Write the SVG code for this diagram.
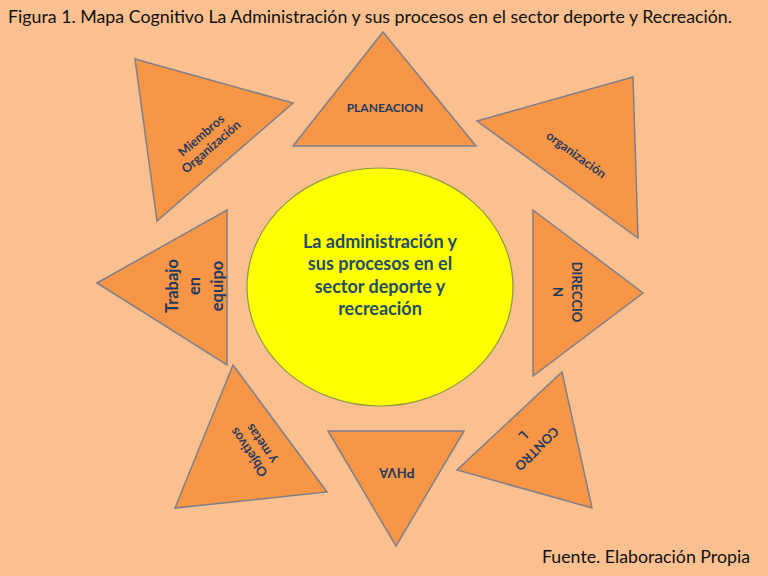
<svg xmlns="http://www.w3.org/2000/svg" width="768" height="576" viewBox="0 0 768 576">
<style>
.tri{fill:#F79646;stroke:#7F7F8A;stroke-width:1.5;stroke-linejoin:miter}
.lbl{font-family:Lato,"Open Sans","Liberation Sans",sans-serif;font-weight:bold;fill:#1F3A60;text-anchor:middle}
.ctr{font-family:Lato,"Open Sans","Liberation Sans",sans-serif;font-weight:bold;fill:#1F4E66;text-anchor:middle;font-size:18px}
.cap{font-family:Lato,"Open Sans","Liberation Sans",sans-serif;fill:#111111;font-size:16.5px}
</style>
<rect width="768" height="576" fill="#FAC08F"/>
<text class="cap" x="8" y="23" textLength="724" lengthAdjust="spacingAndGlyphs">Figura 1. Mapa Cognitivo La Administración y sus procesos en el sector deporte y Recreación.</text>
<g id="connectors"/>
<g id="planeacion">
<polygon class="tri" points="383,32 476,146 293,146"/>
<text class="lbl" x="385" y="112" font-size="12">PLANEACION</text>
</g>
<g id="miembros">
<polygon class="tri" points="135,59 293,103 157,221"/>
<g transform="translate(206,141) rotate(-41)">
<text class="lbl" font-size="12.5" y="-3">Miembros</text>
<text class="lbl" font-size="12.5" y="12">Organización</text>
</g>
</g>
<g id="organizacion">
<polygon class="tri" points="477,121 633,77 638,238"/>
<text class="lbl" font-size="12.5" transform="translate(576,155) rotate(36)" y="4">organización</text>
</g>
<g id="direccion">
<polygon class="tri" points="533,210 643,293 533,376"/>
<g transform="translate(567,292) rotate(90)">
<text class="lbl" font-size="13" y="-5">DIRECCIO</text>
<text class="lbl" font-size="13" y="14">N</text>
</g>
</g>
<g id="control">
<polygon class="tri" points="562,372 592,508 457,470"/>
<g transform="translate(530,442) rotate(135)">
<text class="lbl" font-size="13" y="-5">CONTRO</text>
<text class="lbl" font-size="13" y="14">L</text>
</g>
</g>
<g id="phva">
<polygon class="tri" points="328,431 464,431 396,546"/>
<text class="lbl" font-size="13" transform="translate(397,473) rotate(180)" y="5">PHVA</text>
</g>
<g id="objetivos">
<polygon class="tri" points="233,365 327,492 175,508"/>
<g transform="translate(255,448) rotate(236)">
<text class="lbl" font-size="13" y="-3">Objetivos</text>
<text class="lbl" font-size="13" y="12">y metas</text>
</g>
</g>
<g id="trabajo">
<polygon class="tri" points="97,283 227,210 227,365"/>
<g transform="translate(195,286) rotate(-90)">
<text class="lbl" font-size="16.5" y="-17">Trabajo</text>
<text class="lbl" font-size="16.5" y="5">en</text>
<text class="lbl" font-size="16.5" y="28">equipo</text>
</g>
</g>
<g id="centro">
<ellipse cx="380" cy="287" rx="133" ry="119" fill="#FFFF00" stroke="#8A9A4A" stroke-width="1.2"/>
<text class="ctr" x="380" y="248">La administración y</text>
<text class="ctr" x="380" y="270">sus procesos en el</text>
<text class="ctr" x="380" y="293">sector deporte y</text>
<text class="ctr" x="380" y="315">recreación</text>
</g>
<text class="cap" x="542" y="563" textLength="208" lengthAdjust="spacingAndGlyphs">Fuente. Elaboración Propia</text>
</svg>
